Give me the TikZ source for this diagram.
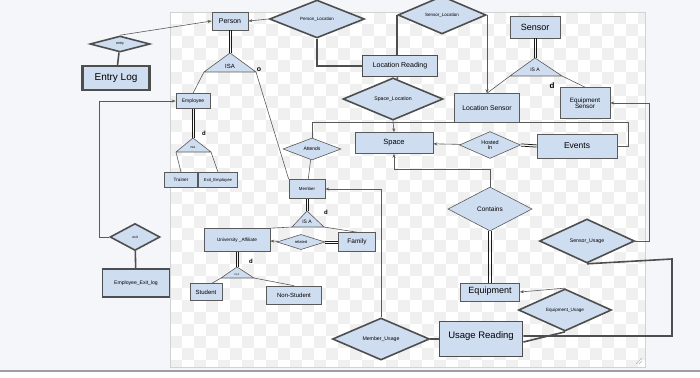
\documentclass[tikz,border=0pt]{standalone}
\usepackage{fontspec}
\setmainfont{Liberation Sans}
\usetikzlibrary{shapes.geometric,arrows.meta,positioning,calc}

\definecolor{erblue}{RGB}{207,221,240}
\definecolor{linegray}{RGB}{90,90,90}
\definecolor{darkline}{RGB}{78,78,78}
\definecolor{dblline}{RGB}{25,25,25}
\definecolor{outside}{RGB}{245,246,249}
\definecolor{checker}{RGB}{240,240,240}
\newcommand{\erfont}[1]{\fontsize{#1}{#1}\selectfont}

\begin{document}
\begin{tikzpicture}[
    x=1pt, y=-1pt,
    % --- STYLES ---
    entity/.style={
        rectangle, draw=linegray, fill=erblue,
        line width=0.6pt, inner sep=1pt,
        align=center
    },
    strong/.style={entity, draw=darkline, line width=1.8pt},
    rel/.style={
        diamond, draw=linegray, fill=erblue,
        line width=0.6pt, inner sep=0pt, aspect=1,
        align=center
    },
    idrel/.style={rel, draw=darkline, line width=1.6pt},
    isabox/.style={draw=linegray, fill=erblue, line width=0.6pt, line join=round},
    link/.style={draw=linegray, line width=0.6pt},
    heavy/.style={draw=darkline, line width=1.6pt},
    arr/.style={link, -{Stealth[length=4pt,width=3pt]}},
    dbl/.style={draw=dblline, line width=0.75pt},
    tag/.style={font=\bfseries\erfont{#1}, inner sep=0pt}
]
\def\gap{1.1pt}

% ===== 0. CANVAS =====
\useasboundingbox (0,0) rectangle (700,377);
\fill[outside] (0,0) rectangle (700,371);
\fill[white] (0,371) rectangle (700,377);
\fill[white] (170,12) rectangle (645,367);
\begin{scope}
    \clip (170,12) rectangle (645,367);
    \foreach \i in {0,...,39} {
        \foreach \j in {0,...,29} {
            \pgfmathtruncatemacro{\chk}{mod(\i+\j,2)}
            \ifnum\chk=1 \fill[checker] (170+12*\i,12+12*\j) rectangle ++(12,12); \fi
        }
    }
\end{scope}
\draw[gray!35] (170,12) rectangle (645,367);
\draw[gray!60, line width=0.5pt] (636,364) -- (642,358) (639,364) -- (642,361);
\draw[gray!75, line width=1.4pt] (0,371) -- (700,371);

% ===== 1. PERSON SIDE =====
\node[entity, minimum width=36pt, minimum height=18pt, font=\erfont{7}] (person) at (230,21) {Person};
\coordinate (pisaT) at (230,53);
\coordinate (pisaL) at (204,72);
\coordinate (pisaR) at (256,72);
\draw[isabox] (pisaT) -- (pisaL) -- (pisaR) -- cycle;
\node[font=\erfont{6}, inner sep=0pt] (pisa) at (230,66) {ISA};
\node[tag=7] (pisaO) at (259,70) {o};

\node[idrel, minimum width=60pt, minimum height=16pt, font=\erfont{3.6}] (entry) at (120,44) {entry};
\node[strong, line width=2.2pt, minimum width=67pt, minimum height=24pt, font=\erfont{10}] (entrylog) at (116,78) {Entry Log};

\node[entity, minimum width=34pt, minimum height=15pt, font=\erfont{5}] (employee) at (193,101) {Employee};
\coordinate (eisaT) at (193,138);
\coordinate (eisaL) at (176,152);
\coordinate (eisaR) at (211,152);
\draw[isabox] (eisaT) -- (eisaL) -- (eisaR) -- cycle;
\node[font=\erfont{3}, inner sep=0pt] (eisa) at (193,147) {ISA};
\node[tag=6] (eisaD) at (204,133) {d};
\node[entity, minimum width=33pt, minimum height=15pt, font=\erfont{4.7}] (trainer) at (181,180) {Trainer};
\node[entity, minimum width=39pt, minimum height=15pt, font=\erfont{4.2}] (exitemp) at (218,180) {Exit\_Employee};

\node[idrel, minimum width=50pt, minimum height=27pt, font=\erfont{3.5}] (exit) at (135,237) {exit};
\node[strong, minimum width=67pt, minimum height=28pt, font=\erfont{5.1}] (exitlog) at (136,283) {Employee\_Exit\_log};

% ===== 2. LOCATION & SENSORS =====
\node[idrel, minimum width=95pt, minimum height=27pt, font=\erfont{4.5}] (ploc) at (317,19) {Person\_Location};
\node[idrel, minimum width=88pt, minimum height=24pt, font=\erfont{4.5}] (sloc) at (442,15) {Sensor\_Location};
\node[strong, minimum width=75pt, minimum height=21pt, font=\erfont{7}] (lreading) at (400,66) {Location Reading};
\node[idrel, minimum width=100pt, minimum height=27pt, font=\erfont{5.2}] (spaceloc) at (393,99) {Space\_Location};

\node[entity, minimum width=50pt, minimum height=22pt, font=\erfont{9}] (sensor) at (535,27) {Sensor};
\coordinate (sisaT) at (535,58);
\coordinate (sisaL) at (510,76);
\coordinate (sisaR) at (562,76);
\draw[isabox] (sisaT) -- (sisaL) -- (sisaR) -- cycle;
\node[font=\erfont{5}, inner sep=0pt] (sisa) at (535,70) {IS A};
\node[tag=8] (sisaD) at (552,86) {d};
\node[entity, minimum width=65pt, minimum height=29pt, font=\erfont{6.8}] (lsensor) at (487,108) {Location Sensor};
\node[entity, minimum width=50pt, minimum height=31pt, font=\erfont{6.3}] (esensor) at (585,103) {Equipment\\Sensor};

% ===== 3. SPACE, EVENTS, MEMBERS =====
\node[entity, minimum width=78pt, minimum height=21pt, font=\erfont{7.5}] (space) at (394,143) {\raisebox{3pt}{Space}};
\node[rel, minimum width=61pt, minimum height=24pt, font=\erfont{5.5}] (hosted) at (490,145) {Hosted\\In};
\node[entity, minimum width=80pt, minimum height=24pt, font=\erfont{8.5}] (events) at (577,146) {Events};
\node[rel, minimum width=58pt, minimum height=22pt, font=\erfont{5}] (attends) at (312,149) {Attends};

\node[entity, minimum width=36pt, minimum height=19pt, font=\erfont{4.4}] (member) at (307,189) {Member};
\coordinate (misaT) at (307,211);
\coordinate (misaL) at (292,227);
\coordinate (misaR) at (324,227);
\draw[isabox] (misaT) -- (misaL) -- (misaR) -- cycle;
\node[font=\erfont{5}, inner sep=0pt] (misa) at (307,222) {IS A};
\node[tag=6] (misaD) at (326,212) {d};
\node[entity, minimum width=37pt, minimum height=19pt, font=\erfont{6.5}] (family) at (357,242) {Family};
\node[rel, minimum width=48pt, minimum height=12pt, font=\erfont{4}] (related) at (301,242) {related};

\node[entity, minimum width=66pt, minimum height=23pt, font=\erfont{4.7}] (uaff) at (237,240) {University \_Affiliate};
\coordinate (uisaT) at (237,267);
\coordinate (uisaL) at (221,278);
\coordinate (uisaR) at (254,278);
\draw[isabox] (uisaT) -- (uisaL) -- (uisaR) -- cycle;
\node[font=\erfont{2.5}, inner sep=0pt] (uisa) at (237,275) {IS A};
\node[tag=6] (uisaD) at (251,261) {d};
\node[entity, minimum width=32pt, minimum height=17pt, font=\erfont{6}] (student) at (206,292) {Student};
\node[entity, minimum width=55pt, minimum height=18pt, font=\erfont{6}] (nonstudent) at (294,295) {Non-Student};

% ===== 4. EQUIPMENT & USAGE =====
\node[rel, minimum width=84pt, minimum height=44pt, font=\erfont{6.5}] (contains) at (490,209) {Contains};
\node[entity, minimum width=59pt, minimum height=18pt, font=\erfont{9}] (equipment) at (490,292) {\raisebox{3pt}{Equipment}};
\node[idrel, minimum width=95pt, minimum height=44pt, font=\erfont{5.2}] (susage) at (587,241) {Sensor\_Usage};
\node[idrel, minimum width=93pt, minimum height=34pt, font=\erfont{4.6}] (eusage) at (565,310) {Equipment\_Usage};
\node[strong, minimum width=83pt, minimum height=35pt, font=\erfont{9.5}] (ureading) at (481,339) {\raisebox{7pt}{Usage Reading}};
\node[idrel, minimum width=97pt, minimum height=42pt, font=\erfont{5.2}] (musage) at (381,339) {Member\_Usage};

% ===== 5. CONNECTIONS =====

% -- ISA hierarchies (total participation = double line) --
\draw[dbl] ([xshift=-\gap]person.south) -- ([xshift=-\gap]pisaT)
           ([xshift=\gap]person.south) -- ([xshift=\gap]pisaT);
\draw[link] (pisaL) -- (employee.north);
\draw[link] (pisaR) -- (member.north west);
\draw[dbl] ([xshift=-\gap]employee.south) -- ([xshift=-\gap]eisaT)
           ([xshift=\gap]employee.south) -- ([xshift=\gap]eisaT);
\draw[link] (eisaL) -- (trainer.north);
\draw[link] (eisaR) -- (exitemp.north);
\draw[dbl] ([xshift=-\gap]sensor.south) -- ([xshift=-\gap]sisaT)
           ([xshift=\gap]sensor.south) -- ([xshift=\gap]sisaT);
\draw[link] (sisaL) -- (lsensor.north);
\draw[link] (sisaR) -- (esensor.north);
\draw[dbl] ([xshift=-\gap]member.south) -- ([xshift=-\gap]misaT)
           ([xshift=\gap]member.south) -- ([xshift=\gap]misaT);
\draw[link] (misaL) -- (uaff.north east);
\draw[link] (misaR) -- (family.north);
\draw[dbl] ([xshift=-\gap]uaff.south) -- ([xshift=-\gap]uisaT)
           ([xshift=\gap]uaff.south) -- ([xshift=\gap]uisaT);
\draw[link] (uisaL) -- ([xshift=6pt]student.north);
\draw[link] (uisaR) -- (nonstudent.north);

% -- Entry / exit logs --
\draw[arr] (entry.north) -- (person.west);
\draw[heavy] (entry) -- (entrylog);
\draw[arr] (exit.west) -- ++(-10,0) |- (employee.west);
\draw[heavy] (exit) -- (exitlog);

% -- Location readings --
\draw[arr] (ploc.west) -- (person.east);
\draw[heavy] (ploc.south) |- (lreading.west);
\draw[heavy] (sloc.west) -- (sloc.west |- lreading.north);
\draw[arr] (sloc.east) -| (lsensor.north);
\draw[heavy] (lreading) -- (spaceloc);
\draw[arr] (spaceloc.south) -- (space.north);

% -- Space, events, attendance --
\draw[arr] (hosted) -- (space);
\draw[dbl] ([yshift=-\gap]hosted.east) -- ([yshift=-\gap]events.west)
           ([yshift=\gap]hosted.east) -- ([yshift=\gap]events.west);
\draw[link] (events.east) -| (628,122) -| (attends.north);
\draw[link] (attends) -- (member);
\draw[arr] (related) -- (uaff);
\draw[dbl] ([yshift=-\gap]related.east) -- ([yshift=-\gap]family.west)
           ([yshift=\gap]related.east) -- ([yshift=\gap]family.west);
\draw[arr] (contains.north) -- ++(0,-17) -| (space.south);
\draw[dbl, line width=1pt] ([xshift=-\gap]contains.south) -- ([xshift=-\gap]equipment.north)
           ([xshift=\gap]contains.south) -- ([xshift=\gap]equipment.north);

% -- Usage readings --
\draw[arr] (susage.east) -- ++(14,0) |- (esensor.east);
\draw[heavy] (susage.south) -- (672,259) |- ([yshift=3pt]ureading.east);
\draw[arr] (eusage.north) -- (equipment.east);
\draw[heavy] (eusage.south) -- ([yshift=-3pt]ureading.east);
\draw[heavy] (musage) -- (ureading);
\draw[arr] (musage.north) |- (member.east);

\end{tikzpicture}
\end{document}
